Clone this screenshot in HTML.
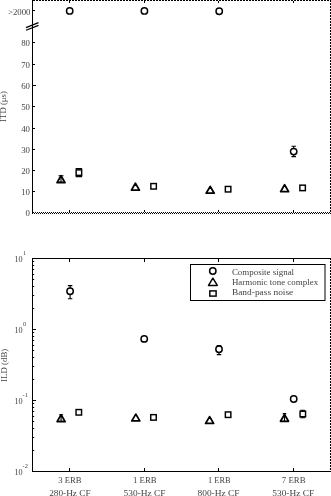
<!DOCTYPE html>
<html><head><meta charset="utf-8"><style>
html,body{margin:0;padding:0;background:#fff;}
svg{display:block;}
text{font-family:"Liberation Serif",serif;font-size:8.8px;fill:#444;}
</style></head><body>
<svg width="331" height="496" viewBox="0 0 331 496">
<rect x="32" y="0" width="1" height="214" fill="#000"/>
<line x1="33" y1="0.5" x2="330" y2="0.5" stroke="#000" stroke-width="1" stroke-dasharray="2 1"/>
<line x1="330.5" y1="0" x2="330.5" y2="214" stroke="#000" stroke-width="1" stroke-dasharray="2 1"/>
<line x1="33" y1="212.5" x2="330" y2="212.5" stroke="#000" stroke-width="1" stroke-dasharray="1 1"/>
<line x1="34" y1="213.5" x2="330" y2="213.5" stroke="#000" stroke-width="1" stroke-dasharray="1 1"/>
<text x="30" y="216.4" text-anchor="end">0</text>
<rect x="33" y="191" width="2" height="1" fill="#000"/>
<text x="30" y="194.9" text-anchor="end">10</text>
<rect x="33" y="170" width="2" height="1" fill="#000"/>
<text x="30" y="173.9" text-anchor="end">20</text>
<rect x="33" y="149" width="2" height="1" fill="#000"/>
<text x="30" y="152.9" text-anchor="end">30</text>
<rect x="33" y="128" width="2" height="1" fill="#000"/>
<text x="30" y="131.9" text-anchor="end">40</text>
<rect x="33" y="106" width="2" height="1" fill="#000"/>
<text x="30" y="109.9" text-anchor="end">50</text>
<rect x="33" y="85" width="3" height="1" fill="#000"/>
<text x="30" y="88.9" text-anchor="end">60</text>
<rect x="33" y="64" width="2" height="1" fill="#000"/>
<text x="30" y="67.9" text-anchor="end">70</text>
<rect x="33" y="42" width="2" height="1" fill="#000"/>
<text x="30" y="45.9" text-anchor="end">80</text>
<rect x="33" y="10" width="2" height="1" fill="#000"/>
<text x="30.5" y="14.5" text-anchor="end">&gt;2000</text>
<path d="M26,27.6 L38.5,22.6 M26,30.3 L38.5,25.4" stroke="#000" stroke-width="1.2" fill="none"/>
<rect x="69" y="1" width="1" height="2" fill="#000"/>
<rect x="69" y="210" width="1" height="2" fill="#000"/>
<rect x="144" y="1" width="1" height="2" fill="#000"/>
<rect x="144" y="210" width="1" height="2" fill="#000"/>
<rect x="218" y="1" width="1" height="2" fill="#000"/>
<rect x="218" y="210" width="1" height="2" fill="#000"/>
<rect x="293" y="1" width="1" height="2" fill="#000"/>
<rect x="293" y="210" width="1" height="2" fill="#000"/>
<rect x="32" y="258" width="1" height="214" fill="#000"/>
<rect x="32" y="258" width="298" height="1" fill="#000"/>
<rect x="32" y="471" width="299" height="1" fill="#000"/>
<line x1="330.5" y1="258" x2="330.5" y2="472" stroke="#000" stroke-width="1" stroke-dasharray="2 1"/>
<rect x="33" y="308" width="1.2" height="1" fill="#000"/>
<rect x="33" y="295" width="1.2" height="1" fill="#000"/>
<rect x="33" y="286" width="1.2" height="1" fill="#000"/>
<rect x="33" y="279" width="1.2" height="1" fill="#000"/>
<rect x="33" y="274" width="1.2" height="1" fill="#000"/>
<rect x="33" y="269" width="1.2" height="1" fill="#000"/>
<rect x="33" y="265" width="1.2" height="1" fill="#000"/>
<rect x="33" y="261" width="1.2" height="1" fill="#000"/>
<rect x="33" y="379" width="1.2" height="1" fill="#000"/>
<rect x="33" y="366" width="1.2" height="1" fill="#000"/>
<rect x="33" y="357" width="1.2" height="1" fill="#000"/>
<rect x="33" y="350" width="1.2" height="1" fill="#000"/>
<rect x="33" y="345" width="1.2" height="1" fill="#000"/>
<rect x="33" y="340" width="1.2" height="1" fill="#000"/>
<rect x="33" y="336" width="1.2" height="1" fill="#000"/>
<rect x="33" y="332" width="1.2" height="1" fill="#000"/>
<rect x="33" y="450" width="1.2" height="1" fill="#000"/>
<rect x="33" y="437" width="1.2" height="1" fill="#000"/>
<rect x="33" y="428" width="1.2" height="1" fill="#000"/>
<rect x="33" y="421" width="1.2" height="1" fill="#000"/>
<rect x="33" y="416" width="1.2" height="1" fill="#000"/>
<rect x="33" y="411" width="1.2" height="1" fill="#000"/>
<rect x="33" y="407" width="1.2" height="1" fill="#000"/>
<rect x="33" y="403" width="1.2" height="1" fill="#000"/>
<text x="14.4" y="262.2" style="font-size:8.2px">10</text><text x="23" y="255.4" style="font-size:6.4px">1</text>
<rect x="33" y="329" width="3" height="1" fill="#000"/>
<text x="14.4" y="333.2" style="font-size:8.2px">10</text><text x="23" y="326.4" style="font-size:6.4px">0</text>
<rect x="33" y="400" width="3" height="1" fill="#000"/>
<text x="14.4" y="404.2" style="font-size:8.2px">10</text><text x="22.6" y="397.4" style="font-size:6.4px">-1</text>
<text x="14.4" y="475.2" style="font-size:8.2px">10</text><text x="22.6" y="468.4" style="font-size:6.4px">-2</text>
<rect x="69" y="259" width="1" height="3" fill="#000"/>
<rect x="69" y="468" width="1" height="3" fill="#000"/>
<rect x="144" y="259" width="1" height="3" fill="#000"/>
<rect x="144" y="468" width="1" height="3" fill="#000"/>
<rect x="218" y="259" width="1" height="3" fill="#000"/>
<rect x="218" y="468" width="1" height="3" fill="#000"/>
<rect x="293" y="259" width="1" height="3" fill="#000"/>
<rect x="293" y="468" width="1" height="3" fill="#000"/>
<circle cx="69.7" cy="10.9" r="3.2" fill="#fff" stroke="#000" stroke-width="1.45"/>
<circle cx="144.4" cy="10.9" r="3.2" fill="#fff" stroke="#000" stroke-width="1.45"/>
<circle cx="219.2" cy="11.2" r="3.2" fill="#fff" stroke="#000" stroke-width="1.45"/>
<path d="M293.7,146.2 V156.6 M291.45,146.2 H295.95 M291.45,156.6 H295.95" stroke="#000" stroke-width="1.1" fill="none"/>
<circle cx="293.7" cy="151.6" r="3.2" fill="#fff" stroke="#000" stroke-width="1.45"/>
<path d="M78.9,168.6 V176.6 M75.65,168.6 H82.15 M75.65,176.6 H82.15" stroke="#000" stroke-width="1.1" fill="none"/>
<path d="M61,175.8 V182 M58.5,175.8 H63.5 M58.5,182 H63.5" stroke="#000" stroke-width="1.1" fill="none"/>
<path d="M61,175.79999999999998 L65.0,182.6 L57.0,182.6 Z" fill="none" stroke="#000" stroke-width="1.8" stroke-linejoin="round"/>
<path d="M135.4,183.29999999999998 L139.4,190.1 L131.4,190.1 Z" fill="none" stroke="#000" stroke-width="1.8" stroke-linejoin="round"/>
<path d="M210.2,186.39999999999998 L214.2,193.2 L206.2,193.2 Z" fill="none" stroke="#000" stroke-width="1.8" stroke-linejoin="round"/>
<path d="M284.6,184.79999999999998 L288.6,191.6 L280.6,191.6 Z" fill="none" stroke="#000" stroke-width="1.8" stroke-linejoin="round"/>
<rect x="76.15" y="169.85" width="5.5" height="5.5" fill="#fff" stroke="#000" stroke-width="1.45"/>
<rect x="150.85" y="183.55" width="5.5" height="5.5" fill="#fff" stroke="#000" stroke-width="1.45"/>
<rect x="225.35" y="186.45" width="5.5" height="5.5" fill="#fff" stroke="#000" stroke-width="1.45"/>
<rect x="299.85" y="185.15" width="5.5" height="5.5" fill="#fff" stroke="#000" stroke-width="1.45"/>
<path d="M70.1,285.6 V298.8 M67.85,285.6 H72.35 M67.85,298.8 H72.35" stroke="#000" stroke-width="1.1" fill="none"/>
<circle cx="70.1" cy="291.2" r="3.2" fill="#fff" stroke="#000" stroke-width="1.45"/>
<circle cx="144.2" cy="338.9" r="3.2" fill="#fff" stroke="#000" stroke-width="1.45"/>
<path d="M219,345.6 V354.6 M216.75,345.6 H221.25 M216.75,354.6 H221.25" stroke="#000" stroke-width="1.1" fill="none"/>
<circle cx="219" cy="349.2" r="3.2" fill="#fff" stroke="#000" stroke-width="1.45"/>
<circle cx="293.7" cy="399" r="3.2" fill="#fff" stroke="#000" stroke-width="1.45"/>
<path d="M61.1,414.8 V421.2 M59.1,414.8 H63.1 M59.1,421.2 H63.1" stroke="#000" stroke-width="1.1" fill="none"/>
<path d="M284.5,413.6 V421.3 M282.75,413.6 H286.25 M282.75,421.3 H286.25" stroke="#000" stroke-width="1.1" fill="none"/>
<path d="M302.7,410.2 V417.8 M300.2,410.2 H305.2 M300.2,417.8 H305.2" stroke="#000" stroke-width="1.1" fill="none"/>
<path d="M61.1,414.8 L65.1,421.59999999999997 L57.1,421.59999999999997 Z" fill="none" stroke="#000" stroke-width="1.8" stroke-linejoin="round"/>
<path d="M135.8,414.1 L139.8,420.9 L131.8,420.9 Z" fill="none" stroke="#000" stroke-width="1.8" stroke-linejoin="round"/>
<path d="M209.6,416.6 L213.6,423.4 L205.6,423.4 Z" fill="none" stroke="#000" stroke-width="1.8" stroke-linejoin="round"/>
<path d="M284.5,414.5 L288.5,421.29999999999995 L280.5,421.29999999999995 Z" fill="none" stroke="#000" stroke-width="1.8" stroke-linejoin="round"/>
<rect x="76.05" y="409.55" width="5.5" height="5.5" fill="#fff" stroke="#000" stroke-width="1.45"/>
<rect x="150.75" y="414.65" width="5.5" height="5.5" fill="#fff" stroke="#000" stroke-width="1.45"/>
<rect x="225.35" y="411.95" width="5.5" height="5.5" fill="#fff" stroke="#000" stroke-width="1.45"/>
<rect x="300.05" y="411.25" width="5.5" height="5.5" fill="#fff" stroke="#000" stroke-width="1.45"/>
<rect x="190.5" y="264.5" width="134.5" height="36" fill="#fff" stroke="#000" stroke-width="1"/>
<circle cx="212.8" cy="271" r="3.2" fill="#fff" stroke="#000" stroke-width="1.45"/>
<path d="M212.9,278.2 L217.3,285.40000000000003 L208.5,285.40000000000003 Z" fill="none" stroke="#000" stroke-width="1.45" stroke-linejoin="round"/>
<rect x="209.8" y="290.9" width="6.3" height="5.2" fill="none" stroke="#000" stroke-width="1.45"/>
<text x="231.9" y="274.6" style="font-size:8.6px" textLength="62.2" lengthAdjust="spacingAndGlyphs">Composite signal</text>
<text x="231.9" y="284.6" style="font-size:8.6px" textLength="86.2" lengthAdjust="spacingAndGlyphs">Harmonic tone complex</text>
<text x="231.9" y="294.6" style="font-size:8.6px" textLength="61.4" lengthAdjust="spacingAndGlyphs">Band-pass noise</text>
<text x="58.300000000000004" y="483" style="font-size:8.3px" textLength="23.3" lengthAdjust="spacingAndGlyphs">3 ERB</text>
<text x="49.2" y="495.8" style="font-size:8.3px" textLength="41.4" lengthAdjust="spacingAndGlyphs">280-Hz CF</text>
<text x="133.0" y="483" style="font-size:8.3px" textLength="23.6" lengthAdjust="spacingAndGlyphs">1 ERB</text>
<text x="123.5" y="495.8" style="font-size:8.3px" textLength="42.1" lengthAdjust="spacingAndGlyphs">530-Hz CF</text>
<text x="208.1" y="483" style="font-size:8.3px" textLength="22.5" lengthAdjust="spacingAndGlyphs">1 ERB</text>
<text x="197.5" y="495.8" style="font-size:8.3px" textLength="42.1" lengthAdjust="spacingAndGlyphs">800-Hz CF</text>
<text x="281.8" y="483" style="font-size:8.3px" textLength="23.9" lengthAdjust="spacingAndGlyphs">7 ERB</text>
<text x="272.3" y="495.8" style="font-size:8.3px" textLength="41.9" lengthAdjust="spacingAndGlyphs">530-Hz CF</text>
<text transform="translate(6.3,106.5) rotate(-90)" text-anchor="middle">ITD (&#956;s)</text>
<text transform="translate(6.8,365.3) rotate(-90)" text-anchor="middle">ILD (dB)</text>
</svg>
</body></html>
